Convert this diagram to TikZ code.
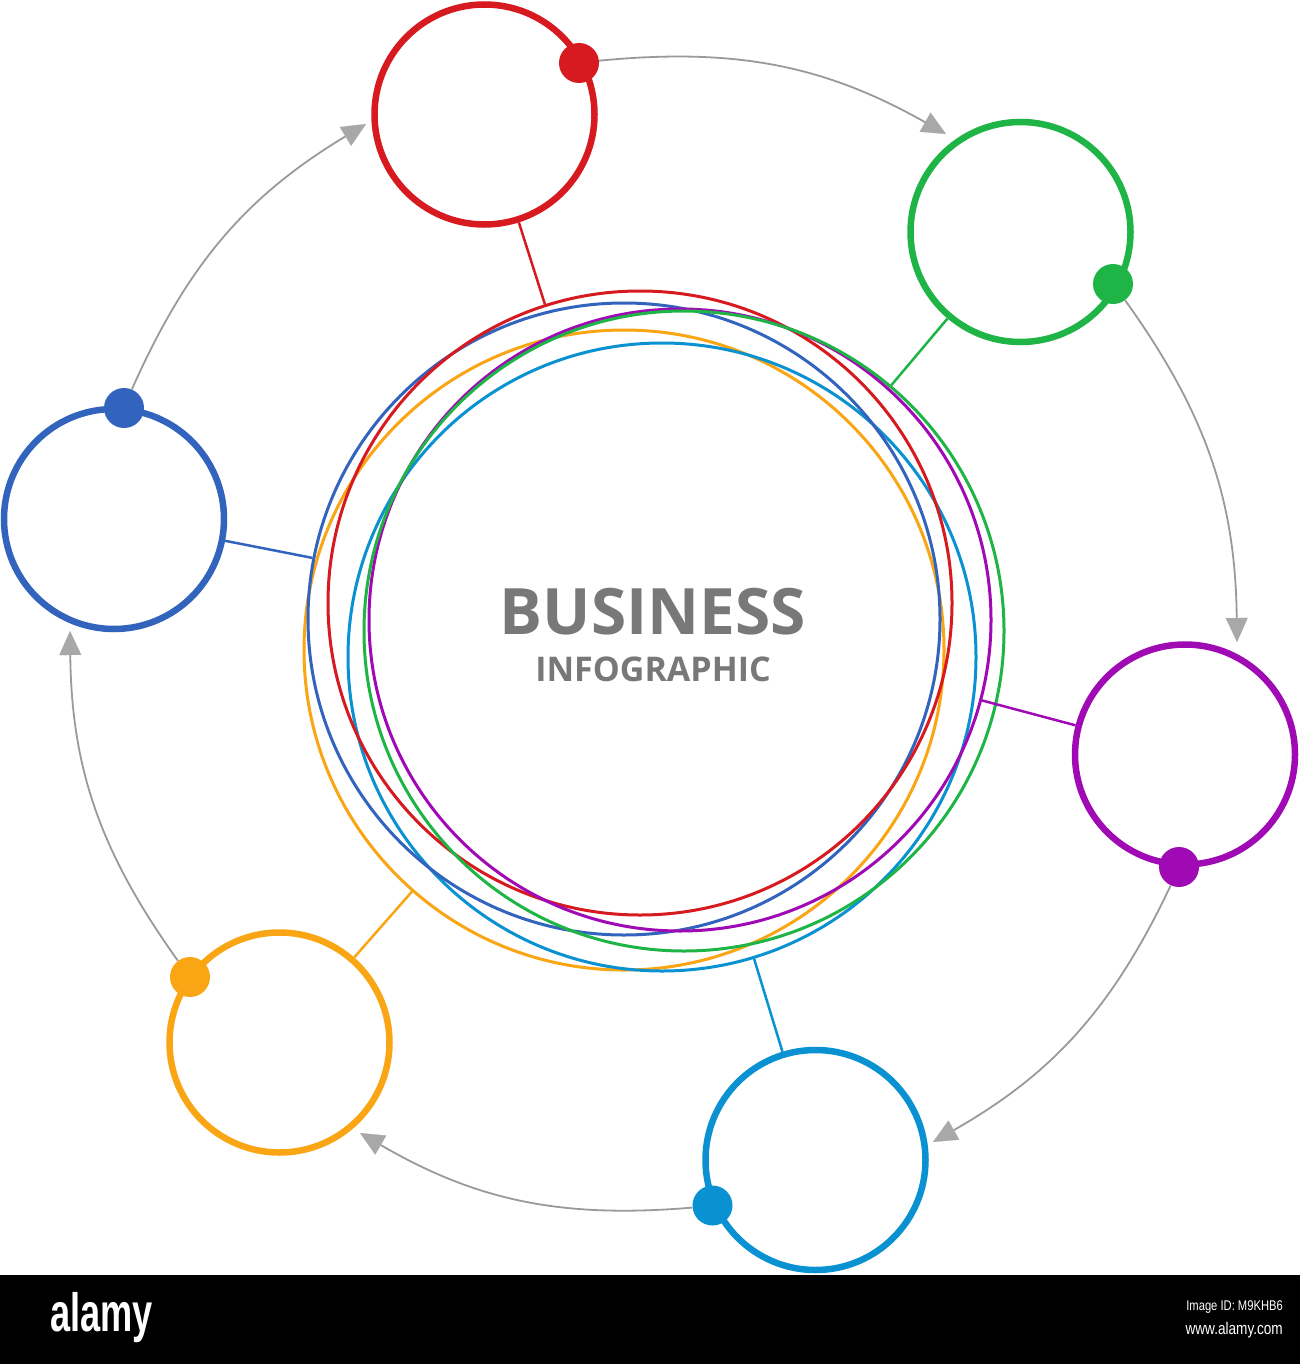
\documentclass[tikz,border=0pt]{standalone}
\usepackage{fontspec}
\setmainfont{Open Sans}
\newfontfamily\lsans{Liberation Sans}
\usetikzlibrary{arrows.meta}
\definecolor{cred}{HTML}{D71A20}
\definecolor{cgreen}{HTML}{1EB446}
\definecolor{cpurple}{HTML}{A00AB4}
\definecolor{clblue}{HTML}{0A91D2}
\definecolor{corange}{HTML}{FAA514}
\definecolor{cblue}{HTML}{3264BE}
\definecolor{cgray}{HTML}{9A9A9A}
\definecolor{cgrayhead}{HTML}{A8A8A8}
\definecolor{tgray}{HTML}{787878}
\begin{document}
\begin{tikzpicture}[x=1pt,y=-1pt,
  ring/.style={circle,draw=#1,line width=6.5pt,minimum size=220pt,inner sep=0pt},
  dotnode/.style={circle,fill=#1,minimum size=40pt,inner sep=0pt},
  inner/.style={circle,draw=#1,line width=3pt,inner sep=0pt},
  link/.style={draw=#1,line width=2.5pt},
  arr/.style={draw=cgray,line width=1.8pt,-{Triangle[length=24pt,width=22pt,color=cgrayhead,fill=cgrayhead,line width=0.1pt]}}
]
\useasboundingbox (0,0) rectangle (1300,1364);
\fill[white] (0,0) rectangle (1300,1364);

% central rings
\node[inner=corange,minimum size=640pt] (iorange) at (624,650) {};
\node[inner=clblue,minimum size=628pt] (ilblue) at (662,657) {};
\node[inner=cblue,minimum size=632pt] (iblue) at (624,619) {};
\node[inner=cred,minimum size=624pt] (ired) at (640,603) {};
\node[inner=cpurple,minimum size=622pt] (ipurple) at (680,620) {};
\node[inner=cgreen,minimum size=640pt] (igreen) at (684,631) {};

% outer rings
\node[ring=cred] (ored) at (484.5,114.5) {};
\node[ring=cgreen] (ogreen) at (1020.5,232) {};
\node[ring=cpurple] (opurple) at (1185,754.5) {};
\node[ring=clblue] (olblue) at (815.5,1160) {};
\node[ring=corange] (oorange) at (279.5,1042.5) {};
\node[ring=cblue] (oblue) at (114,519) {};

% links
\draw[link=cred] (ored) -- (ired);
\draw[link=cgreen] (ogreen) -- (igreen);
\draw[link=cpurple] (opurple) -- (ipurple);
\draw[link=clblue] (olblue) -- (ilblue);
\draw[link=corange] (oorange) -- (iorange);
\draw[link=cblue] (oblue) -- (iblue);

% dots
\node[dotnode=cred] (dred) at (579,63) {};
\node[dotnode=cgreen] (dgreen) at (1113,284) {};
\node[dotnode=cpurple] (dpurple) at (1179,867) {};
\node[dotnode=clblue] (dlblue) at (712.5,1205.5) {};
\node[dotnode=corange] (dorange) at (190,977) {};
\node[dotnode=cblue] (dblue) at (124,408) {};

% arrow tips
\coordinate (t1) at (946,134);
\coordinate (t2) at (1237,642);
\coordinate (t3) at (933,1142);
\coordinate (t4) at (360,1133);
\coordinate (t5) at (70,631);
\coordinate (t6) at (366,124);

\draw[arr] (dred) to[bend left=17.5] (t1);
\draw[arr] (dgreen) to[bend left=17.5] (t2);
\draw[arr] (dpurple) to[bend left=17.5] (t3);
\draw[arr] (dlblue) to[bend left=17.5] (t4);
\draw[arr] (dorange) to[bend left=17.5] (t5);
\draw[arr] (dblue) to[bend left=17.5] (t6);

% title
\node[anchor=base,text=tgray,font=\bfseries\fontsize{64}{64}\selectfont,inner sep=0pt] (title) at (653,634) {BUSINESS};
\node[anchor=base,text=tgray,font=\bfseries\fontsize{34}{34}\selectfont,inner sep=0pt] (subtitle) at (653,681) {INFOGRAPHIC};

% bottom band
\fill[black] (0,1275) rectangle (1300,1364);
\node[anchor=base west,text=white,font=\lsans\bfseries\fontsize{54}{54}\selectfont,inner sep=0pt] (logo) at (50,1331) {\scalebox{0.67}[1]{alamy}};
\node[anchor=base east,text=white,font=\lsans\fontsize{14}{14}\selectfont,inner sep=0pt] (imgid) at (1283,1310) {\scalebox{0.8}[1]{Image ID: M9KHB6}};
\node[anchor=base east,text=white,font=\lsans\fontsize{17}{17}\selectfont,inner sep=0pt] (www) at (1283,1334) {\scalebox{0.8}[1]{www.alamy.com}};
\end{tikzpicture}
\end{document}
